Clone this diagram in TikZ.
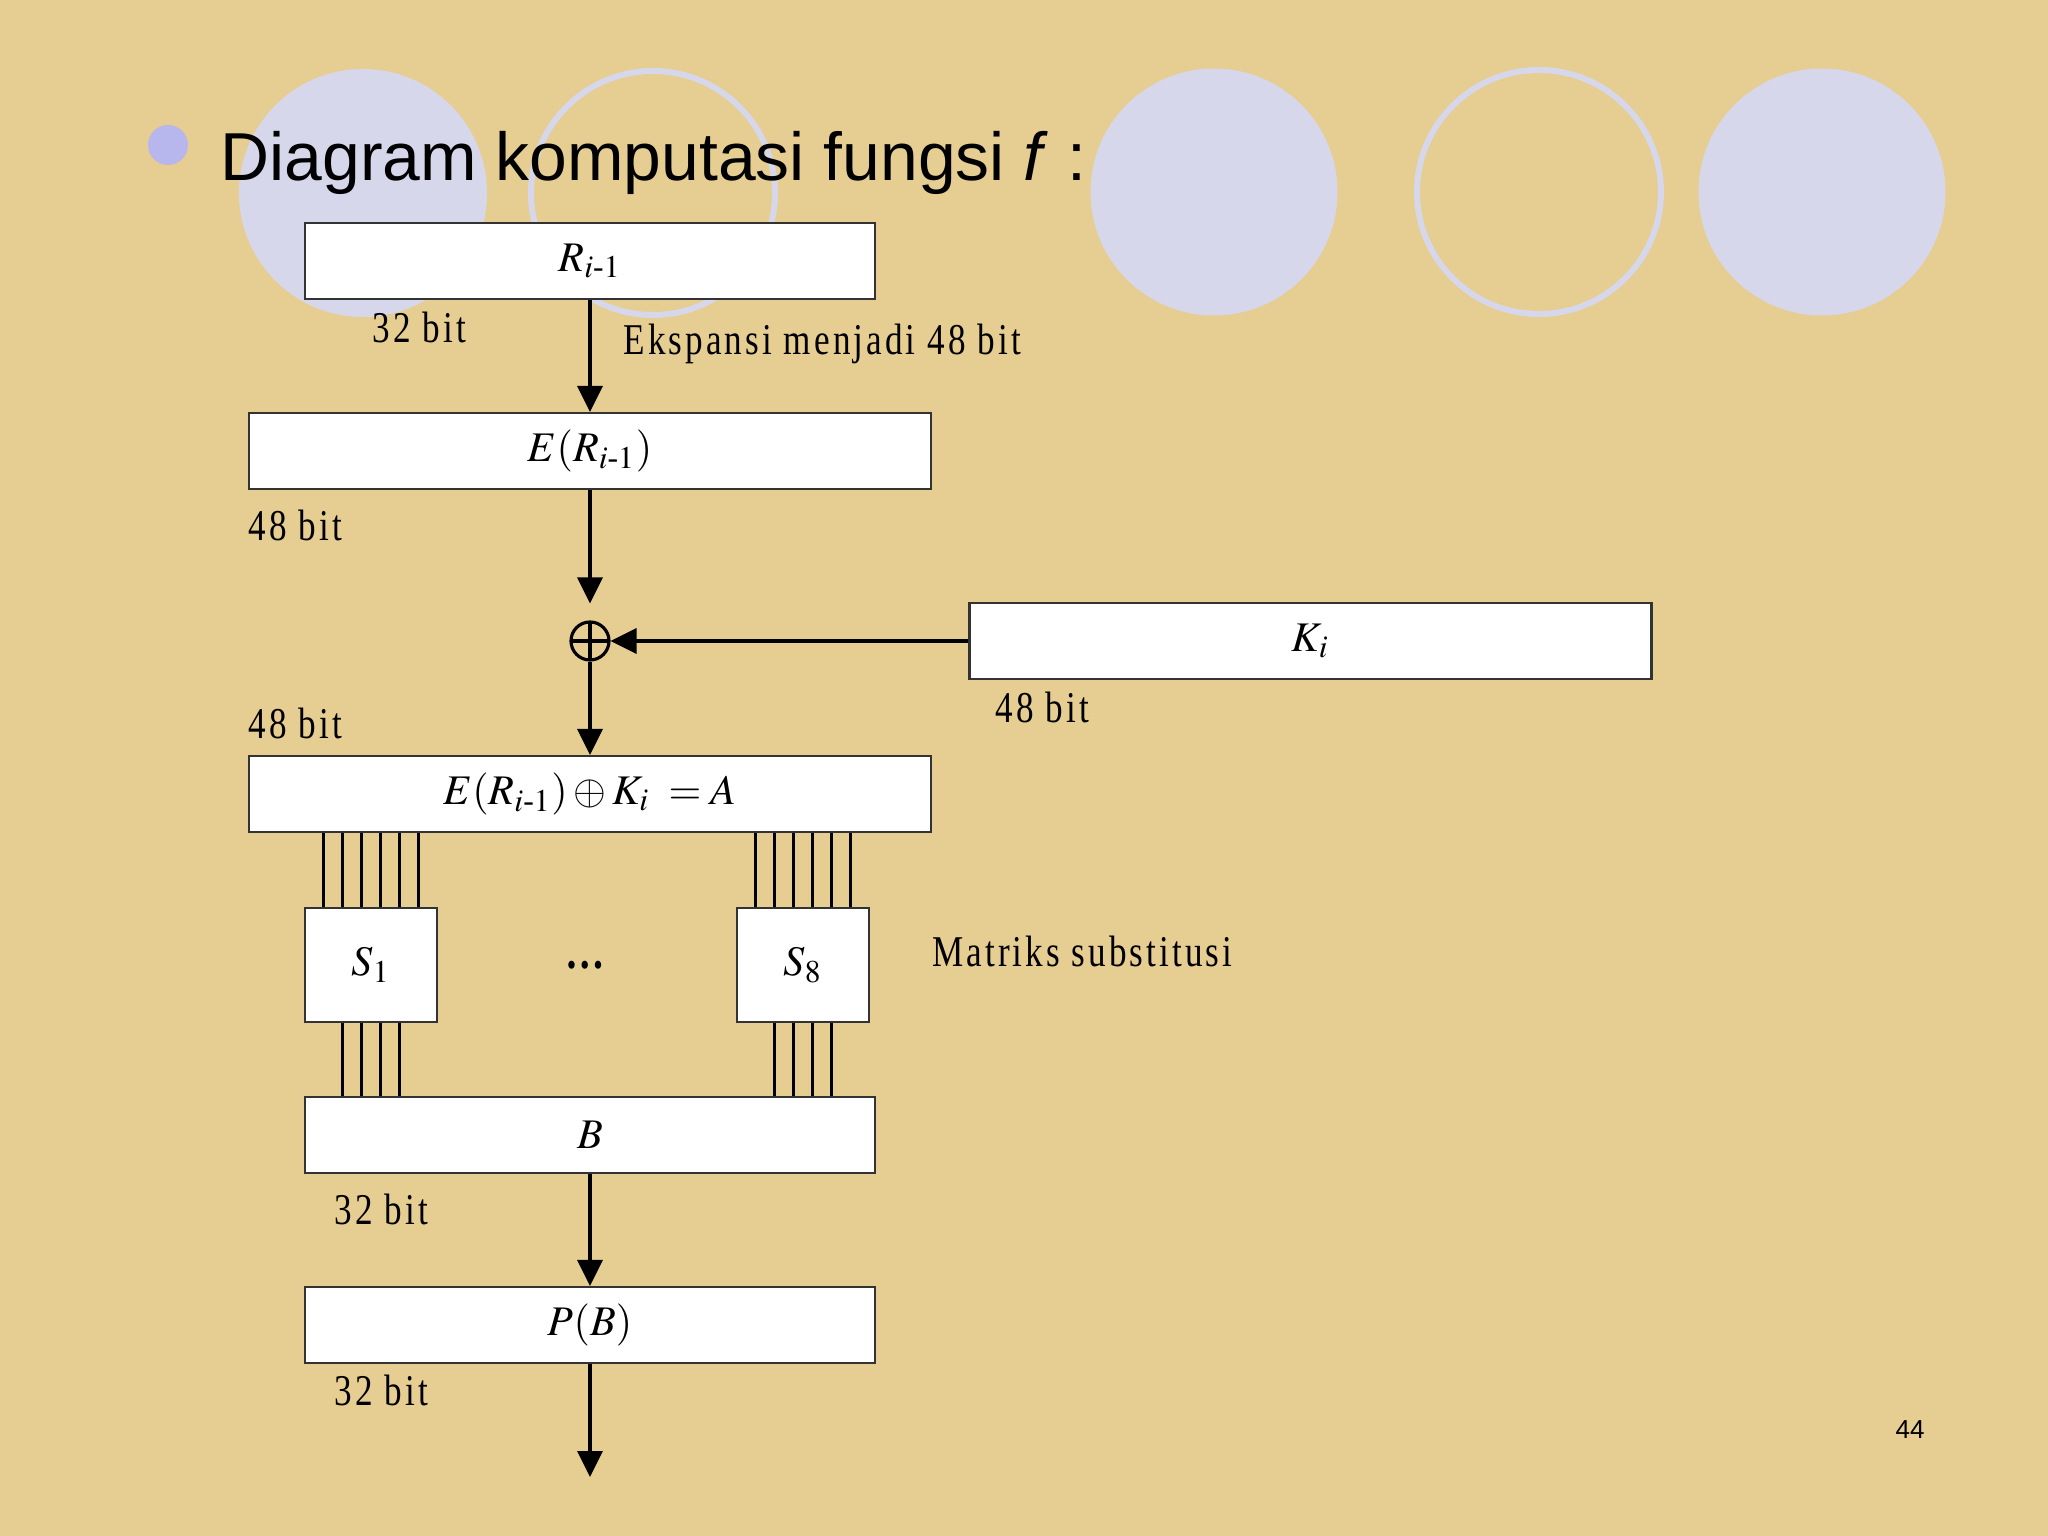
\documentclass[tikz,border=0pt]{standalone}
\usepackage{amsmath}
\usepackage{mathptmx}
\usepackage{fontspec}
\setmainfont{Liberation Serif}
\newfontfamily\judulfont{Liberation Sans}
\newfontfamily\lblfont{Liberation Serif}[FakeStretch=0.8,LetterSpace=7]
\usetikzlibrary{arrows.meta}
\definecolor{kertas}{RGB}{230,205,145}
\definecolor{ungu}{RGB}{215,215,235}

\begin{document}
\begin{tikzpicture}[>={Triangle[length=0.26cm,width=0.25cm]},
  kotak/.style={draw=black!80, fill=white, line width=0.6pt, minimum height=0.76cm, inner sep=0pt, font=\fontsize{12}{14}\selectfont},
  lebar/.style={kotak, minimum width=6.82cm},
  sempit/.style={kotak, minimum width=5.70cm},
  sbox/.style={kotak, minimum width=1.32cm, minimum height=1.14cm},
  ket/.style={anchor=base west, inner sep=0pt, font=\lblfont\fontsize{12.5}{15}\selectfont},
  panah/.style={->, line width=0.9pt},
  kabel/.style={line width=0.8pt}]
%%Background
\fill[kertas] (0,0) rectangle (20.48,-15.36);
\useasboundingbox (0,0) rectangle (20.48,-15.36);
%%Circles
\fill[ungu] (3.63,-1.93) circle (1.24);
\draw[ungu, line width=0.06cm] (6.53,-1.93) circle (1.22);
\fill[ungu] (12.14,-1.92) circle (1.235);
\draw[ungu, line width=0.06cm] (15.39,-1.92) circle (1.22);
\fill[ungu] (18.22,-1.92) circle (1.235);
\fill[ungu!85!blue] (1.68,-1.45) circle (0.2);
%%Title
\node[anchor=base west, inner sep=0pt, font=\judulfont\fontsize{19.3}{23}\selectfont] (judul) at (2.20,-1.81) {Diagram komputasi fungsi \textit{f} :};
%%Blocks
\node[sempit] (R) at (5.90,-2.61) {$R_{i\text{-}1}$};
\node[lebar] (E) at (5.90,-4.51) {$E(R_{i\text{-}1})$};
\node[draw, circle, minimum size=0.38cm, inner sep=0pt, line width=0.9pt,
  path picture={\draw[line width=0.9pt] (path picture bounding box.north) -- (path picture bounding box.south)
  (path picture bounding box.west) -- (path picture bounding box.east);}] (xor) at (5.90,-6.41) {};
\node[lebar] (K) at (13.105,-6.41) {$K_i$};
\node[lebar] (A) at (5.90,-7.94) {$E(R_{i\text{-}1})\oplus K_i\;=A$};
\node[sbox] (S1) at (3.71,-9.65) {$S_1$};
\node[sbox] (S8) at (8.03,-9.65) {$S_8$};
\node[font=\lblfont\fontsize{14}{16}\selectfont\bfseries] (titik) at (5.85,-9.65) {\dots};
\node[sempit] (B) at (5.90,-11.35) {$B$};
\node[sempit] (P) at (5.90,-13.25) {$P(B)$};
\coordinate (keluar) at (5.90,-14.77);
%%Arrows
\draw[panah] (R) -- (E);
\draw[panah, shorten >=0.17cm] (E) -- (xor);
\draw[panah] (K) -- (xor);
\draw[panah] (xor) -- (A);
\draw[panah] (B) -- (P);
\draw[panah] (P) -- (keluar);
%%Wires
\foreach \dx in {-2.5,-1.5,...,2.5} {
  \draw[kabel] ([xshift=\dx*0.19cm]S1.north) -- ([xshift=\dx*0.19cm]S1.north |- A.south);
  \draw[kabel] ([xshift=\dx*0.19cm]S8.north) -- ([xshift=\dx*0.19cm]S8.north |- A.south);
}
\foreach \dx in {-1.5,-0.5,0.5,1.5} {
  \draw[kabel] ([xshift=\dx*0.19cm]S1.south) -- ([xshift=\dx*0.19cm]S1.south |- B.north);
  \draw[kabel] ([xshift=\dx*0.19cm]S8.south) -- ([xshift=\dx*0.19cm]S8.south |- B.north);
}
%%Labels
\node[ket] (bitR) at (3.72,-3.43) {32 bit};
\node[ket] (eks) at (6.23,-3.55) {Ekspansi menjadi 48 bit};
\node[ket] (bitE) at (2.48,-5.41) {48 bit};
\node[ket] (bitX) at (2.48,-7.38) {48 bit};
\node[ket] (bitK) at (9.95,-7.23) {48 bit};
\node[ket] (mat) at (9.315,-9.66) {Matriks substitusi};
\node[ket] (bitB) at (3.34,-12.24) {32 bit};
\node[ket] (bitP) at (3.34,-14.05) {32 bit};
\node[anchor=base west, inner sep=0pt, font=\judulfont\fontsize{7.4}{9}\selectfont] (hal) at (18.95,-14.38) {44};
\end{tikzpicture}
\end{document}
